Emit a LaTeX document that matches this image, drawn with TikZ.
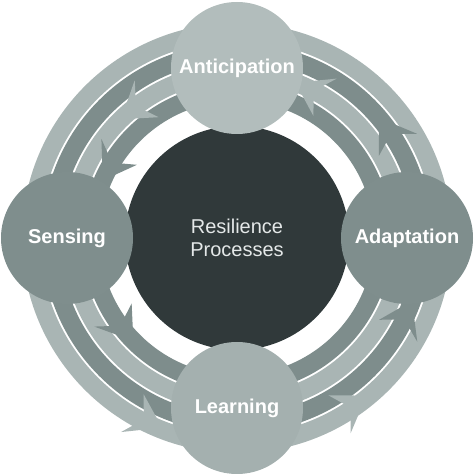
\documentclass[tikz,border=0pt]{standalone}
\usepackage{fontspec}
\setmainfont{Liberation Sans}

\definecolor{coredark}{HTML}{30393A}
\definecolor{satpale}{HTML}{B2BDBC}
\definecolor{satmid}{HTML}{7F8E8D}
\definecolor{satsoft}{HTML}{A4B0AF}
\definecolor{bandlight}{HTML}{A9B5B4}
\definecolor{banddark}{HTML}{7E8D8C}
\definecolor{coretext}{HTML}{E4E8E8}

\tikzset{
  process/.style={circle, minimum size=132pt, inner sep=0pt, text=white,
    font=\bfseries\fontsize{20}{24}\selectfont},
  core/.style={circle, fill=coredark, minimum size=224pt, inner sep=0pt,
    text=coretext, align=center, font=\fontsize{20}{23}\selectfont},
  band/.style={line width=18pt}
}

\begin{document}
\begin{tikzpicture}[x=1pt,y=1pt]
\useasboundingbox (0,0) rectangle (474,474);

\node[core] (core) at (237,236) {Resilience\\Processes};

% rings round the core
\foreach \r/\c in {206/bandlight,186/banddark,166/bandlight,146/banddark}
  \draw[band, \c] (core.center) circle (\r);

% arrow tips on the rings
\begin{scope}[shift={(core.center)}]
\foreach \a/\r/\c in {124/166/bandlight, 145/146/banddark,
                      59/166/bandlight, 31/186/banddark,
                      -29/186/banddark, -59/204/bandlight,
                      213/146/banddark, 240/204/bandlight}
{
  \pgfmathsetmacro\len{30/\r*57.3}
  \pgfmathsetmacro\notch{10/\r*57.3}
  \pgfmathsetmacro\sweep{-3/\r*57.3}
  \fill[\c] ({\a+\len}:\r) -- ({\a+\sweep}:{\r+22}) -- ({\a+\notch}:\r)
    -- ({\a+\sweep}:{\r-22}) -- cycle;
}
\end{scope}

\node[process, fill=satpale] (antic) at (237,406) {Anticipation};
\node[process, fill=satmid] (sens) at (67,236) {Sensing};
\node[process, fill=satmid] (adapt) at (407,236) {Adaptation};
\node[process, fill=satsoft] (learn) at (237,66) {Learning};

\end{tikzpicture}
\end{document}
